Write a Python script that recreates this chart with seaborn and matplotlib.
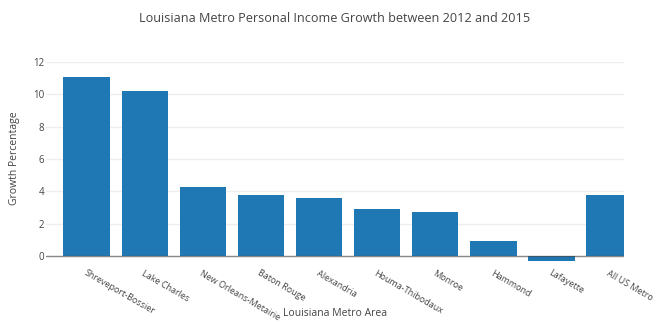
import matplotlib
matplotlib.use("Agg")
import matplotlib.pyplot as plt
import seaborn as sns
import pandas as pd

# Personal income growth, 2012 -> 2015, by metro area
areas = ["Shreveport-Bossier", "Lake Charles", "New Orleans-Metairie", "Baton Rouge",
         "Alexandria", "Houma-Thibodaux", "Monroe", "Hammond", "Lafayette", "All US Metro"]
growth = [11.1, 10.2, 4.3, 3.8, 3.6, 2.9, 2.7, 0.9, -0.3, 3.8]
y_ticks = [0, 2, 4, 6, 8, 10, 12]

sns.set_theme(style="white")
plt.rcParams["font.family"] = ["Open Sans", "DejaVu Sans"]

df = pd.DataFrame({"area": areas, "growth": growth})

W, H = 665, 322
fig = plt.figure(figsize=(W / 100, H / 100), dpi=100)
# axes box in pixel coordinates: x 46..624, y 62 (value 12) .. 262
left, right = 46, 624
top_px, bottom_px = 62, 261.7
ax = fig.add_axes([left / W, 1 - bottom_px / H, (right - left) / W, (bottom_px - top_px) / H])

sns.barplot(data=df, x="area", y="growth", color="#1f77b4", saturation=1,
            width=0.8, ax=ax, linewidth=0)

ax.set_xlim(-0.70, 9.25)
ax.set_ylim(-0.35, 12)
ax.set_yticks(y_ticks)
ax.set_yticklabels([str(t) for t in y_ticks])
ax.yaxis.grid(True, color="#eeeeee", linewidth=1)
ax.set_axisbelow(True)
ax.axhline(0, color="#444444", linewidth=1, alpha=0.6, zorder=3)
for s in ax.spines.values():
    s.set_visible(False)

ax.tick_params(axis="y", length=0, pad=1.5, labelsize=7, labelcolor="#444444")
ax.tick_params(axis="x", length=0, pad=5, labelsize=6.5, labelcolor="#444444")
for lbl in ax.get_xticklabels():
    lbl.set_rotation(-30)
    lbl.set_ha("left")
    lbl.set_va("top")
    lbl.set_rotation_mode("anchor")

ax.set_xlabel("")
ax.set_ylabel("")
fig.text(335 / W, 1 - 314 / H, "Louisiana Metro Area", ha="center", va="center",
         fontsize=7.5, color="#444444")
fig.text(15 / W, 1 - 158 / H, "Growth Percentage", ha="center", va="center",
         rotation=90, fontsize=7.5, color="#444444")
fig.text(335 / W, 1 - 18 / H, "Louisiana Metro Personal Income Growth between 2012 and 2015",
         ha="center", va="center", fontsize=9.1, color="#444444")

fig.savefig("out.png", dpi=100)
